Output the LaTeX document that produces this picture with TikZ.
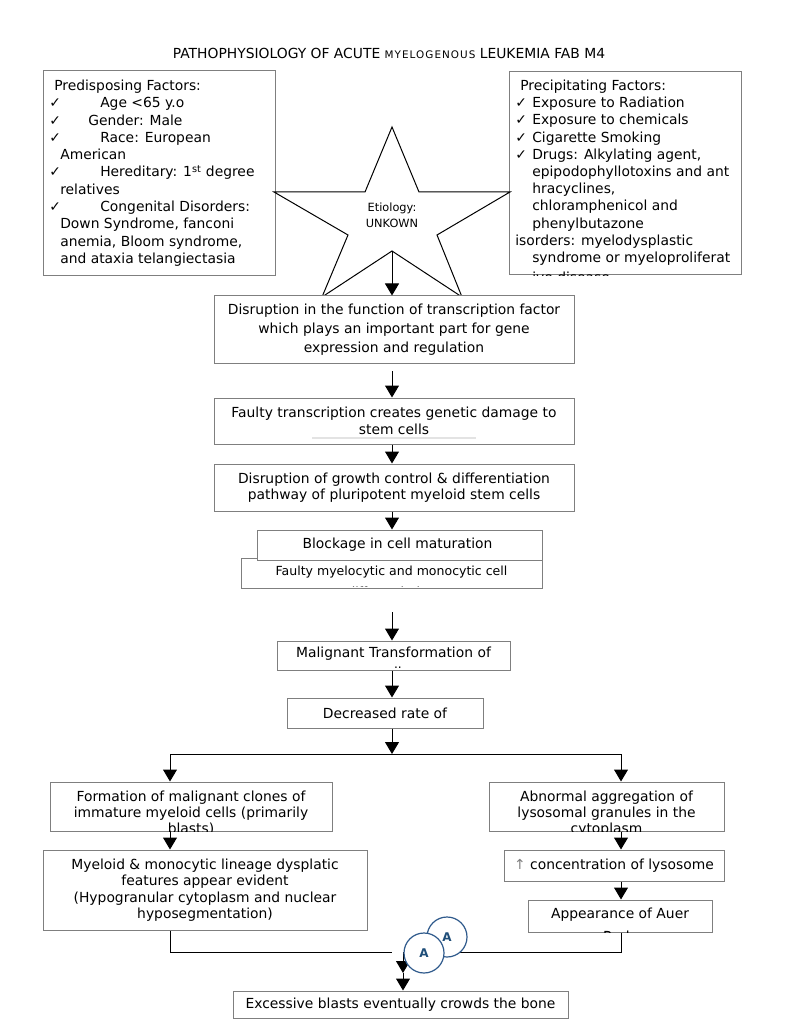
\documentclass[tikz,border=0pt]{standalone}
\usepackage{fontspec}
\setmainfont{DejaVu Sans}
\usetikzlibrary{arrows.meta,fit}
\definecolor{boxgray}{HTML}{7F7F7F}
\definecolor{cblue}{HTML}{2F5A8C}
\definecolor{ablue}{HTML}{1F4E79}
\definecolor{fgray}{HTML}{E3E3E3}
\newcommand\ck[1]{\makebox[#1][l]{✓}}
\begin{document}
\begin{tikzpicture}[x=0.75pt,y=-0.75pt,
  box/.style={draw=boxgray, line width=0.75pt, inner sep=0pt, fill=white},
  txt/.style={font=\fontsize{10.4}{14.25}\selectfont, align=center, inner sep=0pt},
  ltxt/.style={font=\fontsize{10.4}{13}\selectfont, inner sep=0pt, anchor=base west},
  arr/.style={draw=black, line width=0.75pt, -{Triangle[width=10.5pt,length=9pt]}},
  con/.style={draw=black, line width=0.75pt},
  acirc/.style={circle, draw=cblue, line width=0.9pt, fill=white, minimum size=30pt, inner sep=0pt, text=ablue, font=\fontsize{9}{9}\selectfont\bfseries},
]
\useasboundingbox (0,0) rectangle (791,1023);
\fill[white] (0,0) rectangle (791,1023);

% title
\node[font=\fontsize{10.4}{12}\selectfont, anchor=base, inner sep=0pt] (title) at (389,59) {PATHOPHYSIOLOGY OF ACUTE {\fontsize{7.8}{9}\selectfont\addfontfeature{LetterSpace=10}MYELOGENOUS} LEUKEMIA FAB M4};

% predisposing factors
\node[box, fit={(43,71)(275,276)}] (pre) {};
\foreach \itm [count=\i] in {
 {\hspace*{3.75pt}Predisposing Factors:},
 {\ck{38.25pt}Age <65 y.o},
 {\ck{29.25pt}Gender: Male},
 {\ck{38.25pt}Race: European},
 {\hspace*{8.25pt}American},
 {\ck{38.25pt}Hereditary: 1\textsuperscript{st} degree},
 {\hspace*{8.25pt}relatives},
 {\ck{38.25pt}Congenital Disorders:},
 {\hspace*{8.25pt}Down Syndrome, fanconi},
 {\hspace*{8.25pt}anemia, Bloom syndrome,},
 {\hspace*{8.25pt}and ataxia telangiectasia}}
 \node[ltxt] (pl\i) at (49,{90.5+17.3*(\i-1)}) {\itm};

% precipitating factors
\node[box, fit={(509,72)(741,275)}] (prec) {};
\begin{scope}
\clip (prec.south west) rectangle (prec.north east);
\foreach \itm [count=\i] in {
 {\hspace*{3.75pt}Precipitating Factors:},
 {\ck{12.75pt}Exposure to Radiation},
 {\ck{12.75pt}Exposure to chemicals},
 {\ck{12.75pt}Cigarette Smoking},
 {\ck{12.75pt}Drugs: Alkylating agent,},
 {\hspace*{12.75pt}epipodophyllotoxins and ant},
 {\hspace*{12.75pt}hracyclines,},
 {\hspace*{12.75pt}chloramphenicol and},
 {\hspace*{12.75pt}phenylbutazone},
 {isorders: myelodysplastic},
 {\hspace*{12.75pt}syndrome or myeloproliferat}}
 \node[ltxt] (pr\i) at (515,{90.5+17.2*(\i-1)}) {\itm};
\node[ltxt] (pr12) at (515,282) {\hspace*{12.75pt}ive disease};
\end{scope}

% star
\draw[line width=0.75pt] (392,127) -- (419,192) -- (510,192) -- (437,235) -- (462,297) -- (392,251) -- (322,297) -- (348,235) -- (274,192) -- (365,192) -- cycle;
\coordinate (starB) at (392,251);
\node[font=\fontsize{8.5}{12}\selectfont, align=center, inner sep=0pt] (etio) at (392,215) {Etiology:\\UNKOWN};

% main chain
\coordinate (ax) at (392,0);
\node[box, fit={(214,296)(574,363)}] (b1) {};
\node[txt] (b1t) at (b1.center) {Disruption in the function of transcription factor\\which plays an important part for gene\\expression and regulation};
\draw[arr] (starB) -- (starB |- b1.north);

\node[box, fit={(214,398)(574,444)}] (b2) {};
\node[txt, font=\fontsize{10.4}{12.75}\selectfont] (b2t) at (b2.center) {Faulty transcription creates genetic damage to\\stem cells};
\draw[fgray, line width=1.2pt] (312,438) -- (476,438);
\coordinate (g1) at (392,371);
\draw[arr] (g1) -- (g1 |- b2.north);

\node[box, fit={(214,464)(574,511)}] (b3) {};
\node[txt, font=\fontsize{10.4}{12}\selectfont] (b3t) at (b3.center) {Disruption of growth control \& differentiation\\pathway of pluripotent myeloid stem cells};
\draw[arr] (b2.south -| ax) -- (b3.north -| ax);

\node[box, fit={(241,558)(542,588)}] (fa) {};
\begin{scope}
\clip (241,558) rectangle (542,586);
\node[txt, font=\fontsize{9.4}{15.5}\selectfont, anchor=north] (fat) at (391.5,566) {Faulty myelocytic and monocytic cell\\differentiation};
\end{scope}
\node[box, fit={(257,530)(542,560)}] (bl) {};
\node[txt] (blt) at ([xshift=-1.5pt]bl.center) {Blockage in cell maturation};
\draw[arr] (b3.south -| ax) -- (bl.north -| ax);

\node[box, fit={(277,641)(510,670)}] (mt) {};
\begin{scope}
\clip (277,641) rectangle (510,667);
\node[txt, font=\fontsize{10.4}{14.5}\selectfont, anchor=north] (mtt) at (393.5,647) {Malignant Transformation of\\cells};
\end{scope}
\coordinate (g2) at (392,612);
\draw[arr] (g2) -- (g2 |- mt.north);

\node[box, fit={(287,698)(483,728)}] (dr) {};
\node[txt] (drt) at (dr.center) {Decreased rate of};
\draw[arr] (mt.south -| ax) -- (dr.north -| ax);
\coordinate (split) at (392,754);
\draw[arr] (dr.south -| ax) -- (split);
\coordinate (sl) at (170,754);
\coordinate (sr) at (621,754);
\draw[con] (sl) -- (sr);

% left branch
\node[box, fit={(50,782)(332,831)}] (fm) {};
\begin{scope}
\clip (fm.south west) rectangle (fm.north east);
\node[txt, font=\fontsize{10.4}{12}\selectfont, anchor=north] (fmt) at (191,790.5) {Formation of malignant clones of\\immature myeloid cells (primarily\\blasts)};
\end{scope}
\draw[arr] (sl) -- (sl |- fm.north);

\node[box, fit={(43,850)(367,930)}] (my) {};
\node[txt, font=\fontsize{10.4}{12.25}\selectfont] (myt) at (my.center) {Myeloid \& monocytic lineage dysplatic\\features appear evident\\(Hypogranular cytoplasm and nuclear\\hyposegmentation)};
\draw[arr] (sl |- fm.south) -- (sl |- my.north);

% right branch
\node[box, fit={(489,782)(724,831)}] (ab) {};
\begin{scope}
\clip (ab.south west) rectangle (ab.north east);
\node[txt, font=\fontsize{10.4}{12}\selectfont, anchor=north] (abt) at (606.5,790.5) {Abnormal aggregation of\\lysosomal granules in the\\cytoplasm};
\end{scope}
\draw[arr] (sr) -- (sr |- ab.north);

\node[box, fit={(504,850)(724,881)}] (cc) {};
\node[txt] (cct) at (cc.center) {\textcolor{gray}{↑} concentration of lysosome};
\draw[arr] (sr |- ab.south) -- (sr |- cc.north);

\node[box, fit={(528,900)(712,932)}] (au) {};
\begin{scope}
\clip (au.south west) rectangle (au.north east);
\node[txt, font=\fontsize{10.4}{17}\selectfont, anchor=north] (aut) at (620,908) {Appearance of Auer\\Rods};
\end{scope}
\draw[arr] (sr |- cc.south) -- (sr |- au.north);

% bottom
\coordinate (jl) at (392,952);
\coordinate (jr) at (440,952);
\draw[con] (sl |- my.south) |- (jl);
\draw[con] (sr |- au.south) |- (jr);
\node[box, fit={(233,991)(568,1018)}] (ex) {};
\node[txt] (ext) at (ex.center) {Excessive blasts eventually crowds the bone};
\coordinate (j0) at (403,952);
\coordinate (j1) at (403,973);
\draw[arr] (j0) -- (j1);
\node[acirc] (ca2) at (447,937) {A};
\node[acirc] (ca1) at (424,953) {A};
\draw[arr] (j1) -- (j1 |- ex.north);
\end{tikzpicture}
\end{document}
